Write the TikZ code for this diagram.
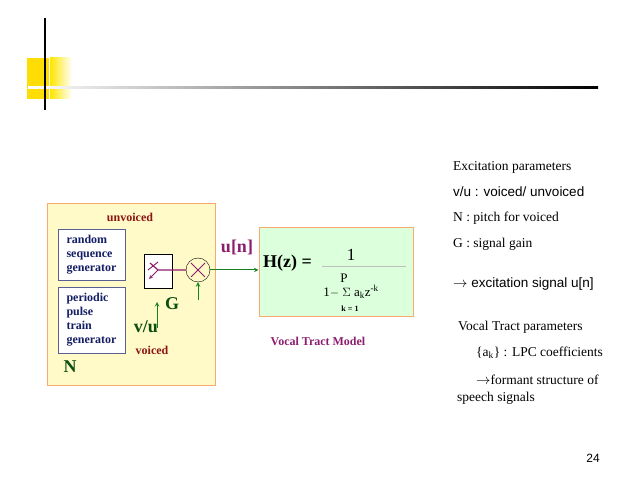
\documentclass[tikz,border=0pt]{standalone}
\usepackage{fontspec}
\setmainfont{Liberation Serif}
\newfontfamily\sans{Liberation Sans}
\usetikzlibrary{positioning}
\definecolor{boxyellow}{RGB}{255,250,200}
\definecolor{boxgreen}{RGB}{220,255,220}
\definecolor{edgeorange}{RGB}{250,170,110}
\definecolor{darkred}{RGB}{140,20,20}
\definecolor{plum}{RGB}{140,30,110}
\definecolor{arrowgreen}{RGB}{20,130,30}
\definecolor{navy}{RGB}{20,30,100}
\begin{document}
\begin{tikzpicture}[x=1pt,y=-1pt,
  every node/.style = {inner sep=0pt},
  block/.style = {draw=navy!70, line width=0.9pt, fill=white, align=left,
    font=\fontsize{12}{14}\selectfont\bfseries\color{navy}},
  param/.style = {anchor=west, font=\fontsize{13.5}{15}\selectfont},
  gain/.style = {->, >=stealth, arrowgreen, line width=1pt}]
  \useasboundingbox (0,0) rectangle (638,478);
  % slide decoration
  \fill[yellow!80!orange] (27,58) rectangle (49,99);
  \shade[left color=yellow!80!orange, right color=white] (50,58) rectangle (72,99);
  \shade[left color=white, right color=black] (28,87) rectangle (598,89);
  \draw[line width=1.2pt] (45,18) -- (45,110);
  % excitation part
  \node[draw=edgeorange, fill=boxyellow, line width=1pt, minimum width=168pt,
    minimum height=182pt] (exc) at (131,295) {};
  \node[font=\fontsize{12}{14}\selectfont\bfseries, darkred] (unv) at (130,217) {unvoiced};
  \node[block, minimum width=67pt, minimum height=51pt, inner sep=4pt] (rnd) at (91.5,254.5)
    {random\\sequence\\generator};
  \node[block, minimum width=67pt, minimum height=66pt, inner sep=4pt] (per) at (91.5,320)
    {periodic\\pulse\\train\\generator};
  \node[draw, fill=white, minimum width=28pt, minimum height=34pt] (sw) at (158,271) {};
  \node[draw, circle, minimum size=24pt] (mult) at (198,270) {};
  \draw[plum, line width=1pt] (191,263) -- (205,277) (191,277) -- (205,263);
  \coordinate (pivot) at (158,270);
  \draw[plum, line width=1.2pt] (mult.west) -- (pivot) -- (150,263);
  \draw[plum, line width=1pt] (148,270) -- (158,262);
  \draw[plum, ->, >=stealth, line width=0.8pt] (pivot) -- (149,279);
  \node[font=\fontsize{18}{20}\selectfont\bfseries, arrowgreen!60!black] (g) at (172,304) {G};
  \node[font=\fontsize{18}{20}\selectfont\bfseries, arrowgreen!60!black] (vu) at (146,327) {v/u};
  \node[font=\fontsize{12}{14}\selectfont\bfseries, darkred] (vcd) at (152,350) {voiced};
  \node[font=\fontsize{18}{20}\selectfont\bfseries, arrowgreen!60!black] (n) at (70,367) {N};
  \coordinate (vuend) at (157,328);
  \coordinate (gend) at (198,300);
  \draw[gain] (vuend) -- (157,302);
  \draw[gain] (gend) -- (mult.south);
  % vocal tract part
  \node[draw=edgeorange, fill=boxgreen, line width=1pt, minimum width=154pt,
    minimum height=89pt] (vt) at (336,272.5) {};
  \draw[gain] (mult.east) -- (mult.east -| vt.west);
  \node[font=\fontsize{18}{20}\selectfont\bfseries, plum] (un) at (237,247) {u[n]};
  \node[font=\fontsize{18}{20}\selectfont\bfseries, anchor=west] (hz) at (263,263) {H(z) =};
  \draw[gray!50, line width=0.6pt] (322,266) -- (406,266);
  \node[font=\fontsize{17}{19}\selectfont] (num) at (351,255) {1};
  \node[font=\fontsize{13}{15}\selectfont] (den) at (351,292)
    {1$-$ $\Sigma$ a\textsubscript{k}z\textsuperscript{-k}};
  \node[font=\fontsize{13}{15}\selectfont] (p) at (344,278) {P};
  \node[font=\fontsize{8}{9}\selectfont\bfseries] (k) at (350,309) {k = 1};
  \node[font=\fontsize{12}{14}\selectfont\bfseries, plum] (vtm) at (318,341) {Vocal Tract Model};
  % parameters
  \node[param] (ep) at (453,167) {Excitation parameters};
  \node[param, font=\fontsize{13.5}{15}\sans] (p1) at (453,192) {v/u : voiced/ unvoiced};
  \node[param] (p2) at (453,218) {N : pitch for voiced};
  \node[param] (p3) at (453,244) {G : signal gain};
  \node[param, font=\fontsize{13.5}{15}\sans] (p4) at (453,284) {$\rightarrow$ excitation signal u[n]};
  \node[param] (vp) at (458,327) {Vocal Tract parameters};
  \node[param] (a) at (476,353) {\{a\textsubscript{k}\} : LPC coefficients};
  \node[param] (f) at (476,380) {$\rightarrow$formant structure of};
  \node[param] (s) at (457,398) {speech signals};
  \node[font=\fontsize{12}{14}\sans] (pg) at (593,458) {24};
\end{tikzpicture}
\end{document}
